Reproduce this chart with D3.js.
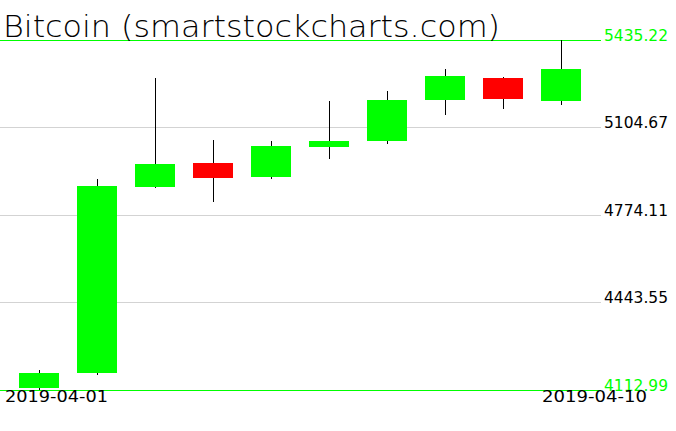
<!DOCTYPE html>
<html>
<head>
<meta charset="utf-8">
<script src="https://cdn.jsdelivr.net/npm/d3@7"></script>
<style>
  html, body { margin: 0; padding: 0; background: #fff; }
  svg { display: block; }
  text { font-family: "DejaVu Sans", sans-serif; }
</style>
</head>
<body>
<svg id="chart" width="676" height="431"></svg>
<script>
const dates = ["2019-04-01","2019-04-02","2019-04-03","2019-04-04","2019-04-05",
               "2019-04-06","2019-04-07","2019-04-08","2019-04-09","2019-04-10"];
const open  = [4120.6, 4177.2, 4879.9, 4970.6, 4917.7, 5031.0, 5053.6, 5208.6, 5291.7, 5204.8];
const high  = [4188.5, 4910.1, 5291.7, 5057.4, 5053.6, 5204.8, 5242.5, 5325.7, 5295.5, 5435.22];
const low   = [4112.99, 4169.7, 4876.1, 4823.2, 4910.1, 4985.7, 5042.3, 5151.9, 5174.5, 5189.7];
const close = [4177.2, 4883.6, 4966.8, 4913.9, 5034.8, 5053.6, 5208.6, 5299.2, 5212.3, 5325.7];
const yTicks = [4112.99, 4443.55, 4774.11, 5104.67, 5435.22];
const xLabels = ["2019-04-01", "2019-04-10"];
const title = "Bitcoin (smartstockcharts.com)";

const svg = d3.select("#chart");
const plotLeft = 0, plotRight = 601, plotTop = 40, plotBottom = 390;

const x = d3.scaleBand().domain(dates).range([10, 590]).padding(0);
const y = d3.scaleLinear().domain([d3.min(yTicks), d3.max(yTicks)]).range([plotBottom, plotTop]);

const candles = dates.map((d, i) => ({date: d, o: open[i], h: high[i], l: low[i], c: close[i]}));

const ymin = d3.min(yTicks), ymax = d3.max(yTicks);
svg.append("g").selectAll("line").data(yTicks).join("line")
  .attr("x1", plotLeft).attr("x2", plotRight)
  .attr("y1", d => Math.round(y(d)) + 0.5).attr("y2", d => Math.round(y(d)) + 0.5)
  .attr("stroke", d => (d === ymin || d === ymax) ? "#00ff00" : "#d3d3d3")
  .attr("stroke-width", 1);

const cx = d => Math.round(x(d.date) + x.bandwidth() / 2) + 0.5;
svg.append("g").selectAll("line").data(candles).join("line")
  .attr("x1", cx).attr("x2", cx)
  .attr("y1", d => Math.round(y(d.h)))
  .attr("y2", d => Math.round(y(d.l)))
  .attr("stroke", "#000").attr("stroke-width", 1);

const bw = 40;
svg.append("g").selectAll("rect").data(candles).join("rect")
  .attr("x", d => Math.round(x(d.date) + x.bandwidth() / 2) - bw / 2)
  .attr("width", bw)
  .attr("y", d => Math.round(y(Math.max(d.o, d.c))))
  .attr("height", d => Math.max(1, Math.round(y(Math.min(d.o, d.c))) - Math.round(y(Math.max(d.o, d.c)))))
  .attr("fill", d => d.c >= d.o ? "#00ff00" : "#ff0000")
  .attr("shape-rendering", "crispEdges");

svg.append("g").selectAll("text").data(yTicks).join("text")
  .attr("x", 604)
  .attr("y", d => Math.round(y(d)) + 1)
  .attr("font-size", 15)
  .attr("textLength", 64)
  .attr("lengthAdjust", "spacingAndGlyphs")
  .attr("fill", d => (d === ymin || d === ymax) ? "#00ff00" : "#000")
  .text(d => d.toFixed(2));

svg.append("text").attr("x", 5).attr("y", 402)
  .attr("font-size", 15).attr("textLength", 103).attr("lengthAdjust", "spacingAndGlyphs")
  .attr("fill", "#000").text(xLabels[0]);
svg.append("text").attr("x", 542).attr("y", 402)
  .attr("font-size", 15).attr("textLength", 105).attr("lengthAdjust", "spacingAndGlyphs")
  .attr("fill", "#000").text(xLabels[1]);

svg.append("text").attr("x", 3).attr("y", 37)
  .attr("font-size", 30).attr("font-weight", 200)
  .attr("textLength", 497).attr("lengthAdjust", "spacingAndGlyphs")
  .attr("fill", "#000").text(title);
</script>
</body>
</html>
